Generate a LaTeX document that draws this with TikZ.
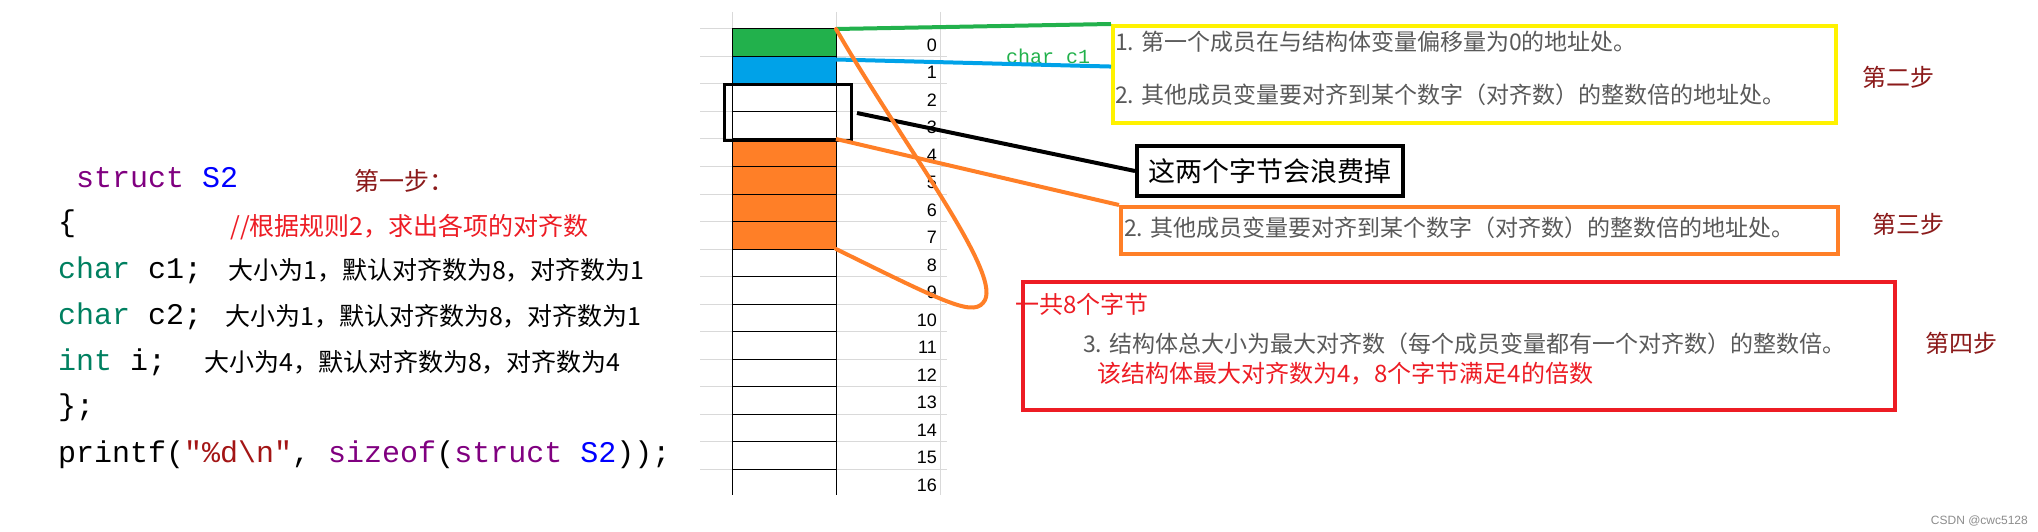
\documentclass[tikz,border=0pt]{standalone}
\usepackage{fontspec}
\setmainfont{Liberation Sans}
\newfontfamily\cjk{Noto Sans CJK SC}
\newfontfamily\code{Liberation Mono}
\definecolor{cgreen}{HTML}{22B14C}
\definecolor{cblue}{HTML}{00A2E8}
\definecolor{corange}{HTML}{FF7F27}
\definecolor{cyellow}{HTML}{FFF200}
\definecolor{cred}{HTML}{ED1C24}
\definecolor{cgray}{HTML}{595959}
\definecolor{cstep}{HTML}{8B1A1A}
\definecolor{cpurple}{HTML}{800080}
\definecolor{cteal}{HTML}{008060}
\definecolor{cstr}{HTML}{A31515}
\begin{document}
\begin{tikzpicture}[x=1pt,y=-1pt,
  cell/.style={draw=black,line width=1pt,minimum width=104pt,minimum height=27.5pt,inner sep=0pt,outer sep=0pt},
  num/.style={anchor=east,font=\fontsize{18}{18}\selectfont,inner sep=0pt},
  codet/.style={anchor=west,font=\code\fontsize{30}{30}\selectfont,inner sep=0pt},
  cn/.style={anchor=west,font=\cjk\fontsize{25}{25}\selectfont,inner sep=0pt},
  note/.style={anchor=west,font=\cjk\fontsize{23}{23}\selectfont,text=cgray,inner sep=0pt},
  stepl/.style={anchor=west,font=\cjk\fontsize{24}{24}\selectfont,text=cstep,inner sep=0pt},
  frame/.style={draw,line width=4pt,inner sep=0pt}]
\useasboundingbox (0,0) rectangle (2038,532);
% spreadsheet grid
\foreach \k in {0,...,16} {\draw[black!15,line width=1pt] (700,29+27.5*\k) -- (947,29+27.5*\k);}
\draw[black!15,line width=1pt] (732,12) -- (732,29) (836,12) -- (836,29) (940,12) -- (940,495);
% cells
\foreach \k in {0,...,15} {\node[cell] (c\k) at (784,42.75+27.5*\k) {};}
\fill[cgreen] (c0.north west) rectangle (c0.south east);
\fill[cblue] (c1.north west) rectangle (c1.south east);
\foreach \k in {4,...,7} {\fill[corange] (c\k.north west) rectangle (c\k.south east);}
\foreach \k in {0,...,15} {\node[cell] at (784,42.75+27.5*\k) {};}
\draw[line width=1pt] (c15.south west) -- ++(0,26) (c15.south east) -- ++(0,26);
\foreach \k in {0,...,16} {\node[num] (n\k) at (937,45+27.5*\k) {\k};}
% code
\node[codet] (l1) at (76,178) {\textcolor{cpurple}{struct} \textcolor{blue}{S2}};
\node[codet] (l2) at (58,224) {\{};
\node[codet] (l3) at (58,270) {\textcolor{cteal}{char} c1;};
\node[codet] (l4) at (58,316) {\textcolor{cteal}{char} c2;};
\node[codet] (l5) at (58,362) {\textcolor{cteal}{int} i;};
\node[codet] (l6) at (58,408) {\};};
\node[codet] (l7) at (58,455) {printf(\textcolor{cstr}{"\%d\textbackslash n"}, \textcolor{cpurple}{sizeof}(\textcolor{cpurple}{struct} \textcolor{blue}{S2}));};
\node[cn,text=cstep] (s1) at (354,181) {第一步：};
\node[cn,text=cred] (cm) at (230,227) {//根据规则2，求出各项的对齐数};
\node[cn] (a1) at (228,270) {大小为1，默认对齐数为8，对齐数为1};
\node[cn] (a2) at (225,316) {大小为1，默认对齐数为8，对齐数为1};
\node[cn] (a3) at (204,362) {大小为4，默认对齐数为8，对齐数为4};
% yellow box
\node[frame,draw=cyellow,minimum width=723pt,minimum height=97pt,anchor=north west] (yb) at (1111,24) {};
\node[note] (y1) at (1115,42) {1. 第一个成员在与结构体变量偏移量为0的地址处。};
\node[note] (y2) at (1115,95) {2. 其他成员变量要对齐到某个数字（对齐数）的整数倍的地址处。};
\node[stepl] (st2) at (1862,77) {第二步};
% black box
\node[frame,draw=black,minimum width=266pt,minimum height=50pt,anchor=north west] (bb) at (1135,144) {};
\node[cn,font=\cjk\fontsize{27}{27}\selectfont,anchor=center] at (bb) {这两个字节会浪费掉};
\node[frame,draw=black,line width=3pt,minimum width=127pt,minimum height=56pt] (wb) at (788,113) {};
% orange box
\node[frame,draw=corange,minimum width=717pt,minimum height=47pt,anchor=north west] (ob) at (1119,205) {};
\node[note] (o1) at (1124,228) {2. 其他成员变量要对齐到某个数字（对齐数）的整数倍的地址处。};
\node[stepl] (st3) at (1872,224) {第三步};
% red box
\node[frame,draw=cred,minimum width=872pt,minimum height=128pt,anchor=north west] (rb) at (1021,280) {};
\node[cn,text=cred,font=\cjk\fontsize{24}{24}\selectfont] (r0) at (1015,304) {一共8个字节};
\node[note] (r1) at (1083,344) {3. 结构体总大小为最大对齐数（每个成员变量都有一个对齐数）的整数倍。};
\node[cn,text=cred,font=\cjk\fontsize{24}{24}\selectfont] (r2) at (1097,374) {该结构体最大对齐数为4，8个字节满足4的倍数};
\node[stepl] (st4) at (1925,343) {第四步};
% connectors
\node[anchor=west,inner sep=0pt,text=cgreen,font=\code\fontsize{20}{20}\selectfont] (cc) at (1006,56) {char c1};
\draw[cgreen,line width=4pt] (c0.north east) -- (yb.north west);
\draw[cblue,line width=4pt] ([yshift=-3pt]c1.north east) -- ([yshift=-3pt]yb.west |- cc.south);
\draw[black,line width=4pt] (wb.east) ++(4,0) -- (bb.west);
\draw[corange,line width=4pt] (c4.north east) -- (ob.north west);
\draw[corange,line width=4pt,line cap=round] (c0.north east) .. controls (900,140) and (1000,270) .. (985,300) .. controls (975,318) and (950,305) .. (c7.south east);
\node[anchor=south east,inner sep=2pt,text=black!45,font=\fontsize{12}{12}\selectfont] (wm) at (2030,528) {CSDN @cwc5128};
\end{tikzpicture}
\end{document}
